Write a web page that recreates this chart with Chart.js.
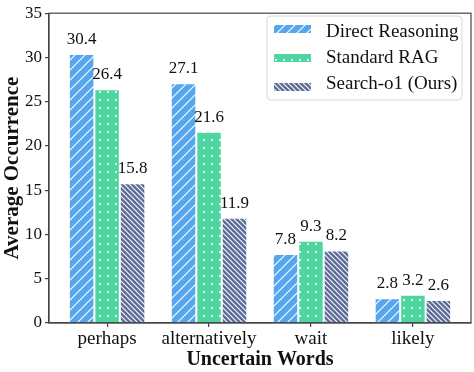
<!DOCTYPE html>
<html>
<head>
<meta charset="utf-8">
<script src="https://cdn.jsdelivr.net/npm/chart.js@4/dist/chart.umd.min.js"></script>
<style>
  html, body { margin: 0; padding: 0; background: #fff; }
  #wrap { width: 474px; height: 372px; }
</style>
</head>
<body>
<div id="wrap"><canvas id="myChart" width="474" height="372"></canvas></div>
<script>
const words = ["perhaps", "alternatively", "wait", "likely"]
const directReasoning = [30.4, 27.1, 7.8, 2.8]
const standardRag = [26.4, 21.6, 9.3, 3.2]
const searchO1 = [15.8, 11.9, 8.2, 2.6]
const yTicks = [0, 5, 10, 15, 20, 25, 30, 35]

const serif = "'Liberation Serif', 'DejaVu Serif', serif"

// petits motifs pour les barres (hachures et points)
function hatch(color, size, dir) {
    const c = document.createElement("canvas")
    c.width = size
    c.height = size
    const ctx = c.getContext("2d")
    ctx.fillStyle = color
    ctx.fillRect(0, 0, size, size)
    ctx.strokeStyle = "rgba(255,255,255,0.95)"
    ctx.lineWidth = 1.2
    ctx.beginPath()
    if (dir === "/") {
        ctx.moveTo(0, size); ctx.lineTo(size, 0)
        ctx.moveTo(-size, size); ctx.lineTo(size, -size)
        ctx.moveTo(0, 2 * size); ctx.lineTo(2 * size, 0)
    } else {
        ctx.moveTo(0, 0); ctx.lineTo(size, size)
        ctx.moveTo(-size, 0); ctx.lineTo(size, 2 * size)
        ctx.moveTo(0, -size); ctx.lineTo(2 * size, size)
    }
    ctx.stroke()
    return ctx.createPattern(c, "repeat")
}

function dots(color, size) {
    const c = document.createElement("canvas")
    c.width = size
    c.height = size
    const ctx = c.getContext("2d")
    ctx.fillStyle = color
    ctx.fillRect(0, 0, size, size)
    ctx.fillStyle = "#fff"
    ctx.beginPath()
    ctx.arc(size / 2, size / 2, 1.1, 0, Math.PI * 2)
    ctx.fill()
    return ctx.createPattern(c, "repeat")
}

const blue = "#55a6ee"
const green = "#4fd6a0"
const slate = "#5b6a98"

const patBlue = hatch(blue, 10, "/")
const patGreen = dots(green, 8)
const patSlate = hatch(slate, 5, "\\")

// axe x lineaire pour garder la marge de matplotlib autour des groupes
const toPoints = arr => arr.map((v, i) => ({ x: i, y: v }))

// valeurs au dessus des barres
const valueLabels = {
    id: "valueLabels",
    afterDatasetsDraw(chart) {
        const ctx = chart.ctx
        ctx.save()
        ctx.font = "17px " + serif
        ctx.fillStyle = "#111"
        ctx.textAlign = "center"
        ctx.textBaseline = "bottom"
        chart.data.datasets.forEach((ds, i) => {
            chart.getDatasetMeta(i).data.forEach((bar, j) => {
                ctx.fillText(ds.data[j].y.toFixed(1), bar.x, bar.y - 6)
            })
        })
        ctx.restore()
    }
}

// cadre + légende
const frameLegend = {
    id: "frameLegend",
    afterDraw(chart) {
        const ctx = chart.ctx
        const a = chart.chartArea
        ctx.save()
        ctx.strokeStyle = "#444"
        ctx.lineWidth = 1.2
        ctx.strokeRect(a.left, a.top, a.right - a.left, a.bottom - a.top)

        const x = 267, y = 16, w = 195, h = 84
        ctx.beginPath()
        ctx.roundRect(x, y, w, h, 4)
        ctx.fillStyle = "rgba(255,255,255,0.85)"
        ctx.fill()
        ctx.strokeStyle = "#d8d8d8"
        ctx.lineWidth = 1
        ctx.stroke()

        ctx.font = "19px " + serif
        ctx.textBaseline = "alphabetic"
        ctx.textAlign = "left"
        const rows = [29, 58, 87]
        const base = [37, 63, 89]
        chart.data.datasets.forEach((ds, i) => {
            ctx.fillStyle = ds.backgroundColor
            ctx.fillRect(274, rows[i] - 4, 37, 8)
            ctx.fillStyle = "#111"
            ctx.fillText(ds.label, 326, base[i])
        })
        ctx.restore()
    }
}

const config = {
    type: "bar",
    data: {
        datasets: [
            { label: "Direct Reasoning", data: toPoints(directReasoning), backgroundColor: patBlue },
            { label: "Standard RAG", data: toPoints(standardRag), backgroundColor: patGreen },
            { label: "Search-o1 (Ours)", data: toPoints(searchO1), backgroundColor: patSlate }
        ]
    },
    options: {
        responsive: false,
        animation: false,
        devicePixelRatio: 1,
        layout: { padding: { top: 7, right: 3, left: 0, bottom: 0 } },
        datasets: {
            bar: {
                borderColor: "#fff",
                borderWidth: 1,
                barPercentage: 1,
                categoryPercentage: 0.75
            }
        },
        plugins: {
            legend: { display: false },
            tooltip: { enabled: false }
        },
        scales: {
            x: {
                type: "linear",
                min: -0.57,
                max: 3.57,
                offset: false,
                afterFit: s => { s.height = 49 },
                afterBuildTicks: s => { s.ticks = words.map((w, i) => ({ value: i })) },
                grid: { display: true, offset: false, drawOnChartArea: false, tickLength: 4, color: "#444", lineWidth: 1.2 },
                border: { color: "#444", width: 1.2 },
                ticks: {
                    color: "#111", font: { family: serif, size: 19 }, padding: 1,
                    callback: v => words[v]
                },
                title: {
                    display: true, text: "Uncertain Words", color: "#111",
                    font: { family: serif, size: 20, weight: "bold" }, padding: { top: 3, bottom: 0 }
                }
            },
            y: {
                min: 0,
                max: 35,
                afterFit: s => { s.width = 49 },
                afterBuildTicks: s => { s.ticks = yTicks.map(v => ({ value: v })) },
                grid: { display: true, drawOnChartArea: false, tickLength: 4, color: "#444", lineWidth: 1.2 },
                border: { color: "#444", width: 1.2 },
                ticks: { color: "#111", font: { family: serif, size: 17 }, padding: 3 },
                title: {
                    display: true, text: "Average Occurrence", color: "#111",
                    font: { family: serif, size: 21, weight: "bold" }, padding: { top: 0, bottom: 0 }
                }
            }
        }
    },
    plugins: [valueLabels, frameLegend]
}

new Chart(document.querySelector("#myChart"), config)
</script>
</body>
</html>
